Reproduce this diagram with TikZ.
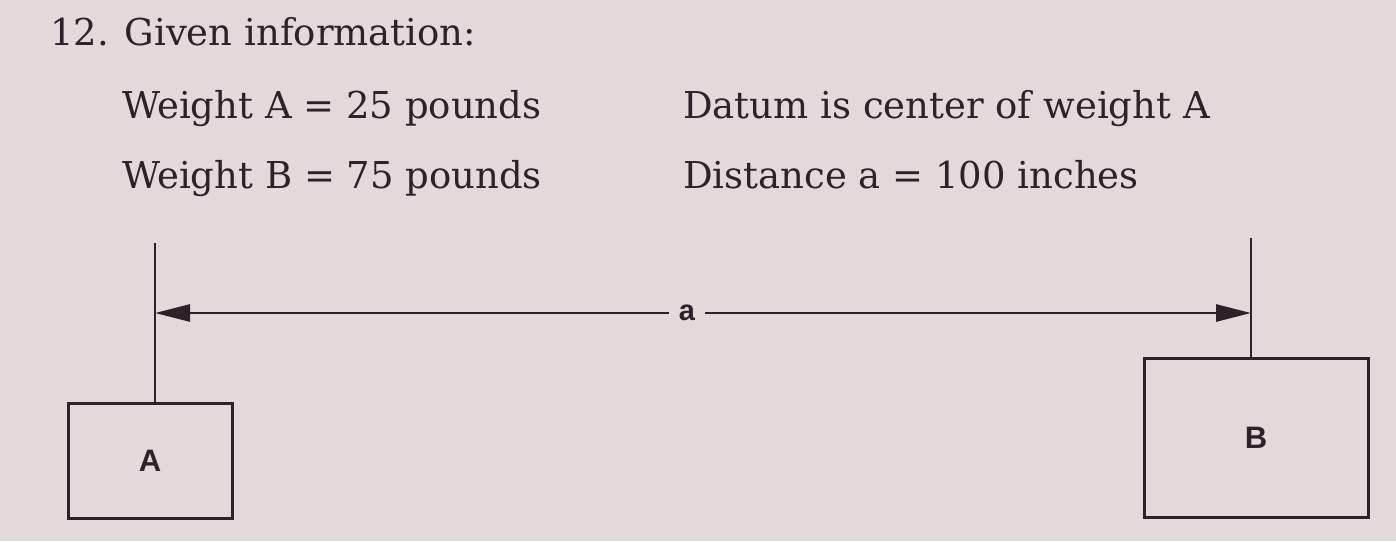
\documentclass[tikz,border=0pt]{standalone}
\usepackage{fontspec}
\setmainfont{DejaVu Serif}
\newfontfamily\labelfont{Liberation Sans}
\usetikzlibrary{arrows.meta}
\definecolor{paper}{RGB}{227,217,219}
\definecolor{ink}{RGB}{48,32,42}
\tikzset{
  given/.style={anchor=base west, inner sep=0pt, text=ink,
    font=\fontsize{37}{42}\selectfont},
  weightbox/.style={draw=ink, line width=3pt, text=ink, inner sep=0pt,
    font=\labelfont\bfseries\fontsize{31}{36}\selectfont},
  datumline/.style={draw=ink, line width=2.8pt},
  dimarrow/.style={draw=ink, line width=2.8pt,
    -{Triangle[length=35pt, width=17pt]}}
}
\begin{document}
\begin{tikzpicture}[x=1pt, y=-1pt]
  \fill[paper] (0,0) rectangle (1396,541);
  \useasboundingbox (0,0) rectangle (1396,541);
  % given information
  \node[given] (title) at (50,45) {12. Given information:};
  \node[given] (wa) at (122,118) {Weight A = 25 pounds};
  \node[given] (wb) at (122,188) {Weight B = 75 pounds};
  \node[given] (datum) at (683,118) {Datum is center of weight A};
  \node[given] (dist) at (683,188) {Distance a = 100 inches};
  % weights
  \node[weightbox, minimum width=164pt, minimum height=115pt] (A) at (150,460.5) {A};
  \node[weightbox, minimum width=224pt, minimum height=159pt] (B) at (1256,437.5) {B};
  \coordinate (topA) at (155,243);
  \coordinate (topB) at (1251,238);
  \draw[datumline] (topA) -- (topA |- A.north);
  \draw[datumline] (topB) -- (topB |- B.north);
  % distance a
  \node[text=ink, inner sep=0pt, font=\labelfont\bfseries\fontsize{29}{34}\selectfont]
    (lbl) at (687,313) {a};
  \coordinate (endA) at (155,313);
  \coordinate (endB) at (1251,313);
  \draw[dimarrow] ([xshift=-18pt]lbl.center) -- (endA);
  \draw[dimarrow] ([xshift=18pt]lbl.center) -- (endB);
\end{tikzpicture}
\end{document}
